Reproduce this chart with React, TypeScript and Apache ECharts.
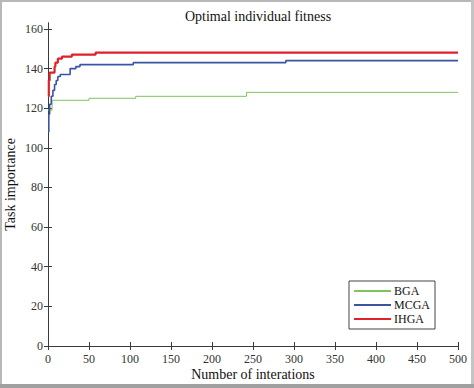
import React, { useEffect, useRef } from "react";
import * as echarts from "echarts";

const seriesNames = ["BGA", "MCGA", "IHGA"];
const seriesColors = ["#7fc45a", "#3a55a4", "#e0202b"];

// [iteration, task importance] change points (stair-step)
const bgaData: [number, number][] = [
  [0, 119], [5, 124], [50, 125], [107, 126], [242, 128], [500, 128],
];
const mcgaData: [number, number][] = [
  [0, 108], [1, 117], [2, 122], [4, 126], [6, 129], [8, 132], [10, 134],
  [12, 136], [15, 137], [27, 140], [34, 141], [39, 142], [104, 143],
  [290, 144], [500, 144],
];
const ihgaData: [number, number][] = [
  [0, 126], [1, 134], [2, 138], [8, 141], [9, 143], [12, 145], [17, 146],
  [29, 147], [58, 148], [500, 148],
];

const xTicks = [0, 50, 100, 150, 200, 250, 300, 350, 400, 450, 500];
const yTicks = [0, 20, 40, 60, 80, 100, 120, 140, 160];

const FONT = "'Liberation Serif', 'Times New Roman', serif";

export default function App() {
  const ref = useRef<HTMLDivElement>(null);

  useEffect(() => {
    if (!ref.current) return;
    const chart = echarts.init(ref.current, undefined, { renderer: "svg" });
    const axisColor = "#3a3a3a";
    const baseX = {
      type: "value" as const,
      min: 0,
      max: 500,
      interval: 50,
      splitLine: { show: false },
      axisLine: { show: true, lineStyle: { color: axisColor, width: 1 } },
      axisTick: { show: true, inside: true, length: 4, lineStyle: { color: axisColor } },
    };
    const baseY = {
      type: "value" as const,
      min: 0,
      max: 163,
      interval: 20,
      splitLine: { show: false },
      axisLine: { show: true, lineStyle: { color: axisColor, width: 1 } },
      axisTick: {
        show: true,
        inside: true,
        length: 4,
        customValues: yTicks,
        lineStyle: { color: axisColor },
      },
    };
    const datasets = [bgaData, mcgaData, ihgaData];
    const widths = [1, 1.6, 2.2];
    chart.setOption({
      animation: false,
      backgroundColor: "#ffffff",
      title: {
        text: "Optimal individual fitness",
        left: 253,
        textAlign: "center",
        top: 4,
        textStyle: { fontFamily: FONT, fontSize: 14, fontWeight: "normal", color: "#111" },
      },
      legend: {
        orient: "vertical",
        left: 349,
        top: 281,
        padding: [4, 5, 4, 4],
        itemWidth: 37,
        itemHeight: 12,
        itemGap: 2,
        borderColor: "#444",
        borderWidth: 1,
        backgroundColor: "#fff",
        borderRadius: 0,
        itemStyle: { opacity: 0 },
        textStyle: { fontFamily: FONT, fontSize: 12, color: "#111", padding: [0, 0, 0, -2] },
        data: seriesNames,
      },
      grid: {
        left: 48,
        right: 16,
        top: 23,
        bottom: 42,
        containLabel: false,
        outerBoundsMode: "none",
      },
      xAxis: [
        {
          ...baseX,
          position: "bottom",
          name: "Number of interations",
          nameLocation: "middle",
          nameGap: 21,
          nameMoveOverlap: false,
          nameTextStyle: { fontFamily: FONT, fontSize: 14, color: "#111" },
          axisLabel: { fontFamily: FONT, fontSize: 12, color: "#333", margin: 7 },
        },
        { ...baseX, position: "top", axisLabel: { show: false } },
      ],
      yAxis: [
        {
          ...baseY,
          position: "left",
          name: "Task importance",
          nameLocation: "middle",
          nameGap: 31,
          nameRotate: 90,
          nameMoveOverlap: false,
          nameTextStyle: { fontFamily: FONT, fontSize: 14, color: "#111" },
          axisLabel: {
            fontFamily: FONT,
            fontSize: 12,
            color: "#333",
            margin: 5,
            customValues: yTicks,
            formatter: (v: number) => (v % 20 === 0 ? String(v) : ""),
          },
        },
        { ...baseY, position: "right", axisLabel: { show: false } },
      ],
      series: seriesNames.map((name, i) => ({
        name,
        type: "line",
        step: "end",
        xAxisIndex: 0,
        yAxisIndex: 0,
        symbol: "none",
        showSymbol: false,
        data: datasets[i],
        lineStyle: { color: seriesColors[i], width: widths[i] },
        itemStyle: { color: seriesColors[i] },
        z: 2 + i,
      })),
    });
    return () => chart.dispose();
  }, []);

  return (
    <div style={{ position: "fixed", left: 0, top: 0, width: 474, height: 388, background: "#fff" }}>
      <div ref={ref} style={{ position: "absolute", left: 0, top: 0, width: 474, height: 388 }} />
      <div style={{ position: "absolute", left: 0, top: 0, width: 474, height: 2, background: "#b8b8b8" }} />
      <div style={{ position: "absolute", left: 0, top: 0, width: 2, height: 388, background: "#b8b8b8" }} />
      <div style={{ position: "absolute", left: 471, top: 0, width: 3, height: 388, background: "#c4c4c4" }} />
      <div style={{ position: "absolute", left: 0, top: 384, width: 474, height: 4, background: "#a0a0a0" }} />
    </div>
  );
}
